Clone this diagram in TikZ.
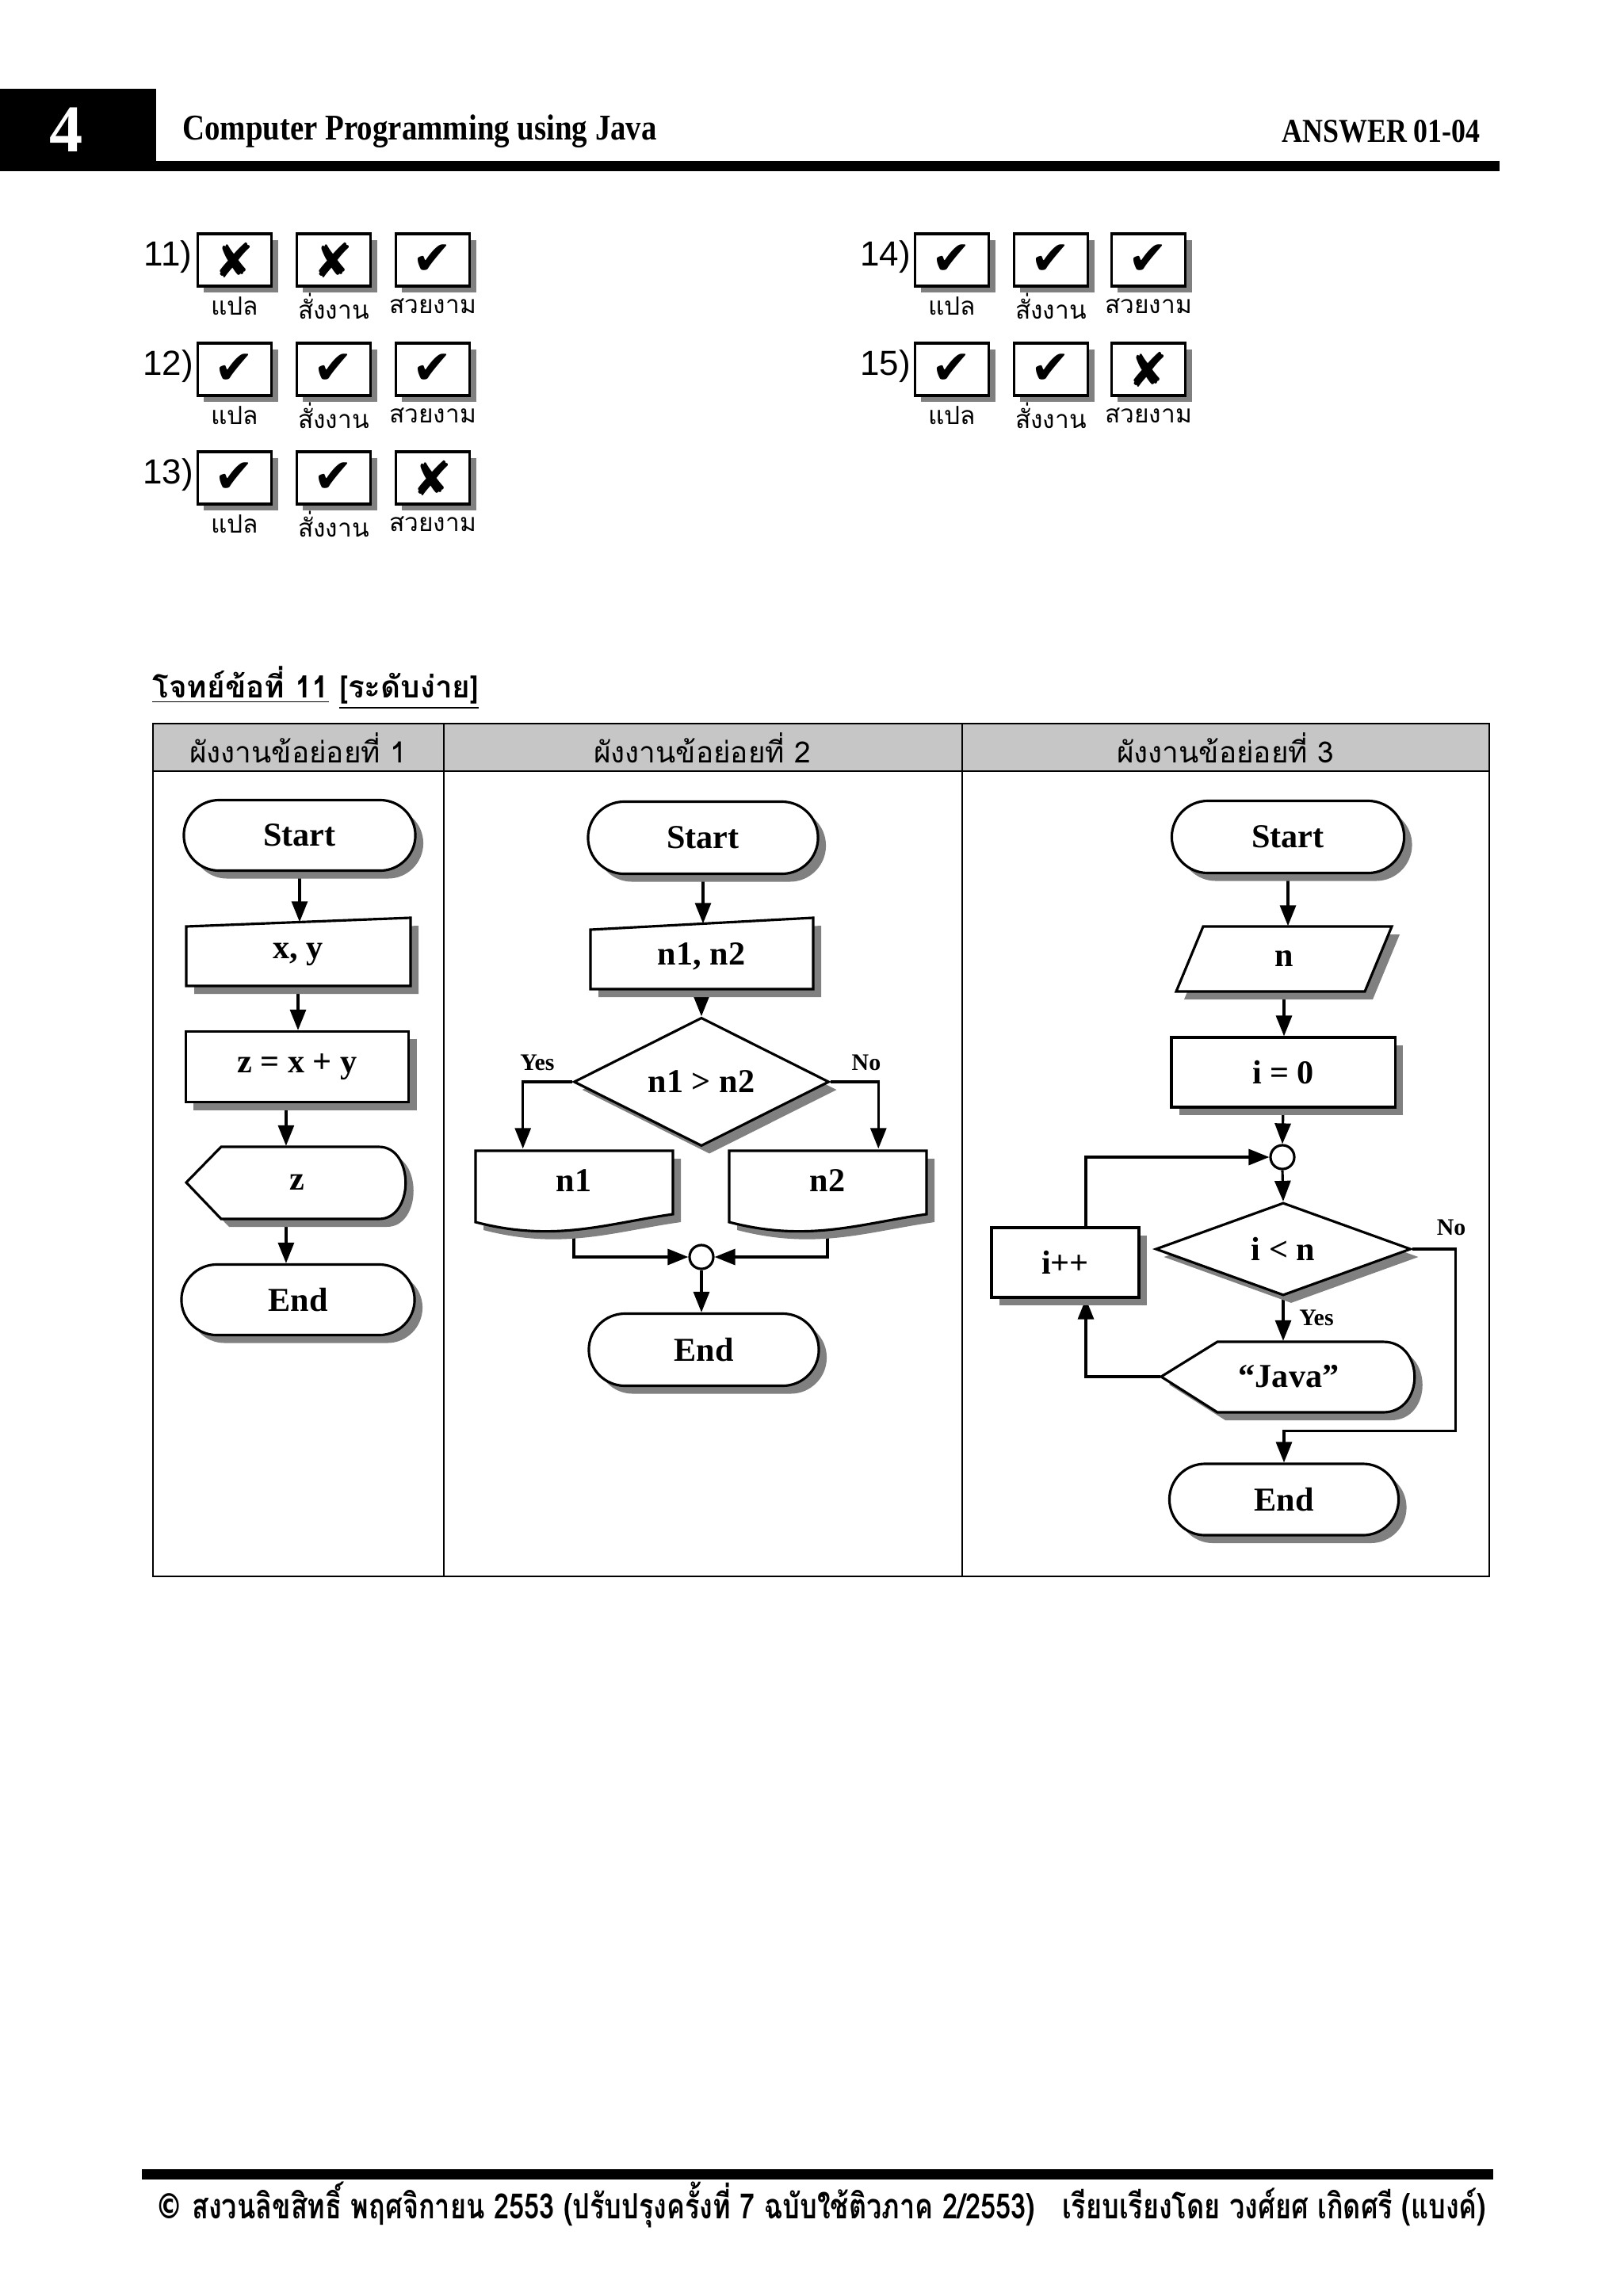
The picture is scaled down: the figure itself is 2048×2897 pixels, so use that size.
\documentclass[tikz,border=0pt]{standalone}
\usepackage{fontspec}
\setmainfont{Liberation Serif}
\newfontfamily\thai[Script=Thai]{Loma}
\newfontfamily\djv{DejaVu Sans}
\newfontfamily\lsans{Liberation Sans}
\usetikzlibrary{shapes.misc,shapes.geometric,arrows.meta,shadows,calc,backgrounds}
\pgfdeclarelayer{tbl}
\pgfsetlayers{tbl,background,main}
\tikzset{
  sh/.style={drop shadow={shadow xshift=0.1cm,shadow yshift=-0.1cm,fill=gray,opacity=1}},
  ln/.style={line width=0.9pt},
  term/.style={rounded rectangle,draw,ln,fill=white,sh,font=\bfseries\fontsize{12}{14}\selectfont,minimum width=2.9cm,minimum height=0.9cm,inner sep=0pt},
  proc/.style={rectangle,draw,ln,fill=white,sh,font=\bfseries\fontsize{12}{14}\selectfont,inner sep=0pt},
  holder/.style={rectangle,inner sep=0pt,font=\bfseries\fontsize{12}{14}\selectfont},
  shp/.style={draw,ln,fill=white,sh},
  dec/.style={diamond,draw,ln,fill=white,sh,inner sep=0pt,font=\bfseries\fontsize{12}{14}\selectfont},
  joint/.style={circle,draw,ln,fill=white,minimum size=0.3cm,inner sep=0pt},
  arr/.style={ln,-{Triangle[length=0.26cm,width=0.2cm]}},
  yn/.style={font=\bfseries\fontsize{8.5}{10}\selectfont},
  cbox/.style={rectangle,draw,line width=1.1pt,fill=white,minimum width=0.93cm,minimum height=0.66cm,inner sep=0pt,drop shadow={shadow xshift=0.08cm,shadow yshift=-0.08cm,fill=gray,opacity=1},font=\djv\fontsize{17}{18}\selectfont},
  cblab/.style={font=\thai\fontsize{9}{11}\selectfont},
  cbnum/.style={font=\lsans\fontsize{12.5}{14}\selectfont},
  thh/.style={font=\thai\fontsize{10.5}{12}\selectfont}
}
\begin{document}
\begin{tikzpicture}[x=0.01cm,y=-0.01cm]
\useasboundingbox (0,0) rectangle (2048,2897);
\begin{pgfonlayer}{tbl}
\fill[white] (0,0) rectangle (2048,2897);
\end{pgfonlayer}
% page header
\fill[black] (0,112) rectangle (197,216);
\fill[black] (197,203) rectangle (1892,216);
\node[text=white,font=\bfseries\fontsize{24}{26}\selectfont] (pgnum) at (84,164) {4};
\node[anchor=west,font=\bfseries\fontsize{13}{15}\selectfont] (ptitle) at (218,166) {\scalebox{0.85}[1]{Computer Programming using Java}};
\node[anchor=east,font=\bfseries\fontsize{12}{14}\selectfont] (pans) at (1880,166) {\scalebox{0.85}[1]{ANSWER 01-04}};
% check boxes
\newcommand{\ck}{✔}
\newcommand{\cx}{✘}
\foreach \r/\n/\y/\a/\b/\c in {1/11)/328/\cx/\cx/\ck, 2/12)/466/\ck/\ck/\ck, 3/13)/603/\ck/\ck/\cx}{
  \node[cbnum] (num\r) at (212,\y-4) {\n};
  \node[cbox] (cba\r) at (296,\y) {\a};
  \node[cbox] (cbb\r) at (421,\y) {\b};
  \node[cbox] (cbc\r) at (546,\y) {\c};
  \node[cblab] (la\r) at (296,\y+58) {แปล};
  \node[cblab] (lb\r) at (421,\y+58) {สั่งงาน};
  \node[cblab] (lc\r) at (546,\y+58) {สวยงาม};
}
\foreach \r/\n/\y/\a/\b/\c in {4/14)/328/\ck/\ck/\ck, 5/15)/466/\ck/\ck/\cx}{
  \node[cbnum] (num\r) at (1117,\y-4) {\n};
  \node[cbox] (cba\r) at (1201,\y) {\a};
  \node[cbox] (cbb\r) at (1326,\y) {\b};
  \node[cbox] (cbc\r) at (1449,\y) {\c};
  \node[cblab] (la\r) at (1201,\y+58) {แปล};
  \node[cblab] (lb\r) at (1326,\y+58) {สั่งงาน};
  \node[cblab] (lc\r) at (1449,\y+58) {สวยงาม};
}
% title
\node[anchor=west,font=\thai\bfseries\fontsize{11}{13}\selectfont] (ttl) at (180,868) {\underline{โจทย์ข้อที่ 11} \underline{[ระดับง่าย]}};
% table
\begin{pgfonlayer}{tbl}
\fill[gray!45] (193,913) rectangle (1879,973);
\draw[line width=0.8pt] (193,913) rectangle (1879,1989);
\draw[line width=0.8pt] (193,973) -- (1879,973);
\draw[line width=0.8pt] (560,913) -- (560,1989);
\draw[line width=0.8pt] (1214,913) -- (1214,1989);
\end{pgfonlayer}
\node[thh] (h1) at (376,944) {ผังงานข้อย่อยที่ 1};
\node[thh] (h2) at (886,944) {ผังงานข้อย่อยที่ 2};
\node[thh] (h3) at (1546,944) {ผังงานข้อย่อยที่ 3};
% ---------- column 1
\node[term,minimum width=2.92cm,minimum height=0.89cm] (s1) at (378,1054) {Start};
\path[shp] (235,1169) -- (518,1158) -- (518,1244) -- (235,1244) -- cycle;
\node[holder,minimum width=2.83cm,minimum height=0.8cm] (in1) at (376,1204) {x, y};
\node[proc,minimum width=2.81cm,minimum height=0.89cm] (p1) at (375,1346) {z = x + y};
\path[shp] (235,1492) -- (279,1447) -- (478,1447) .. controls (523,1447) and (523,1538) .. (478,1538) -- (279,1538) -- cycle;
\node[holder,minimum width=2.81cm,minimum height=0.91cm] (o1) at (375,1492) {z};
\node[term,minimum width=2.94cm,minimum height=0.89cm] (e1) at (376,1640) {End};
\begin{pgfonlayer}{background}
\draw[arr] (s1.south) -- (s1.south |- in1.north);
\draw[arr] (in1.south) -- (in1.south |- p1.north);
\draw[arr] ([xshift=-4]p1.south) -- ([xshift=-4]p1.south |- o1.north);
\draw[arr] ([xshift=-4]o1.south) -- ([xshift=-4]o1.south |- e1.north);
\end{pgfonlayer}
% ---------- column 2
\node[term,minimum width=2.9cm,minimum height=0.91cm] (s2) at (887,1057) {Start};
\path[shp] (745,1173) -- (1026,1158) -- (1026,1248) -- (745,1248) -- cycle;
\node[holder,minimum width=2.81cm,minimum height=0.82cm] (in2) at (885,1207) {n1, n2};
\node[dec,minimum width=3.22cm,minimum height=1.21cm] (d2) at (885,1365) {n1 > n2};
\path[shp] (600,1452) -- (849,1452) -- (849,1532) .. controls (764,1544) and (700,1568) .. (600,1542) -- cycle;
\node[holder,minimum width=2.49cm,minimum height=0.8cm] (n1d) at (724,1490) {n1};
\path[shp] (920,1452) -- (1169,1452) -- (1169,1532) .. controls (1084,1544) and (1020,1568) .. (920,1542) -- cycle;
\node[holder,minimum width=2.49cm,minimum height=0.8cm] (n2d) at (1044,1490) {n2};
\node[joint] (m2) at (885,1586) {};
\node[term,minimum width=2.9cm,minimum height=0.91cm] (e2) at (888,1703) {End};
\node[yn] (yes2) at (678,1341) {Yes};
\node[yn] (no2) at (1093,1341) {No};
\begin{pgfonlayer}{background}
\draw[arr] (s2.south) -- (s2.south |- in2.north);
\draw[arr] (in2.south) -- (in2.south |- d2.north);
\draw[arr] (d2.west) -| ($(n1d.north west)+(61,0)$);
\draw[arr] (d2.east) -| ($(n2d.north east)+(-61,0)$);
\draw[arr] (n1d.south) |- (m2.west);
\draw[arr] (n2d.south) |- (m2.east);
\draw[arr] (m2.south) -- (m2.south |- e2.north);
\end{pgfonlayer}
% ---------- column 3
\node[term,minimum width=2.93cm,minimum height=0.91cm] (s3) at (1625,1056) {Start};
\path[shp] (1518,1169) -- (1756,1169) -- (1722,1251) -- (1484,1251) -- cycle;
\node[holder,minimum width=2.72cm,minimum height=0.82cm] (in3) at (1620,1210) {n};
\node[proc,minimum width=2.82cm,minimum height=0.88cm] (a3) at (1619,1353) {i = 0};
\node[joint] (c3) at (1618,1460) {};
\node[dec,minimum width=3.22cm,minimum height=1.17cm] (d3) at (1619,1576) {i < n};
\path[shp] (1465,1737) -- (1536,1693) -- (1745,1693) .. controls (1798,1693) and (1798,1782) .. (1745,1782) -- (1536,1782) -- cycle;
\node[holder,minimum width=3.23cm,minimum height=0.89cm] (j3) at (1626,1737) {“Java”};
\node[proc,minimum width=1.86cm,minimum height=0.88cm] (inc) at (1344,1593) {i++};
\node[term,minimum width=2.89cm,minimum height=0.90cm] (e3) at (1620,1892) {End};
\node[yn] (yes3) at (1661,1663) {Yes};
\node[yn] (no3) at (1831,1549) {No};
\begin{pgfonlayer}{background}
\draw[arr] (s3.south) -- (s3.south |- in3.north);
\draw[arr] (in3.south) -- (in3.south |- a3.north);
\draw[arr] (a3.south) -- (c3.north);
\draw[arr] (c3.south) -- (d3.north);
\draw[arr] (d3.south) -- (d3.south |- j3.north);
\draw[arr] (j3.west) -| ($(inc.south)+(26,0)$);
\draw[arr] ($(inc.north)+(26,0)$) |- (c3.west);
\draw[arr] (d3.east) -- ++(55,0) |- ($(e3.north)+(0,-40)$) -- (e3.north);
\end{pgfonlayer}
% footer
\fill[black] (179,2737) rectangle (1884,2750);
\node[anchor=west,font=\thai\bfseries\fontsize{12.5}{14}\selectfont] (foot) at (184,2782) {\scalebox{0.78}[1]{{\djv ©} สงวนลิขสิทธิ์ พฤศจิกายน 2553 (ปรับปรุงครั้งที่ 7 ฉบับใช้ติวภาค 2/2553)\quad เรียบเรียงโดย วงศ์ยศ เกิดศรี (แบงค์)}};
\end{tikzpicture}
\end{document}
